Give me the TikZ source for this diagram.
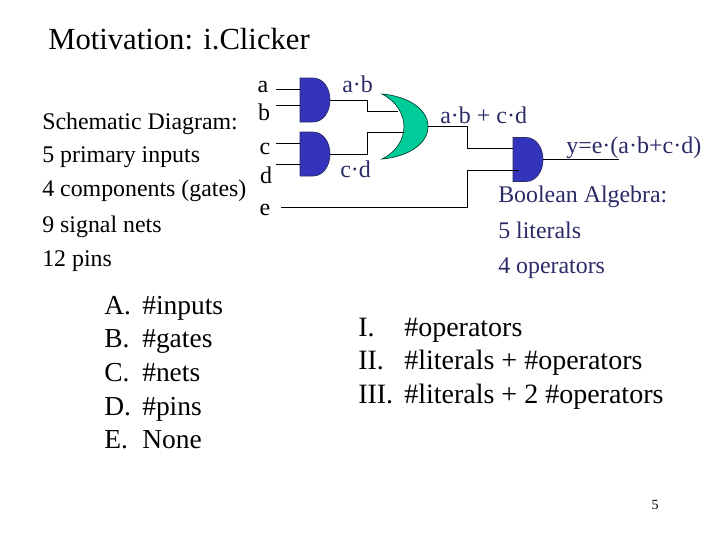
\documentclass[tikz,border=0pt]{standalone}
\usepackage{xcolor}
\usepackage{fontspec}
\setmainfont{Liberation Serif}
\definecolor{gateblue}{HTML}{3333BB}
\definecolor{gategreen}{HTML}{00CC99}
\definecolor{labelblue}{HTML}{2A2A66}
\newcommand{\andbody}[1]{\draw[fill=gateblue, draw=labelblue, line width=0.5pt, shift={(#1.north west)}]
    (0,0) -- (13,0) .. controls (23,0) and (30,10) .. (30,22)
    .. controls (30,34) and (23,44) .. (13,44) -- (0,44) -- cycle;}
\newcommand{\orbody}[1]{\draw[fill=gategreen, draw=black!70!gategreen, line width=0.5pt, shift={(#1.north west)}]
    (0,0) .. controls (24,2) and (46,14) .. (46,32.5)
    .. controls (46,51) and (24,63) .. (0,65)
    .. controls (14,58) and (22,46) .. (22,32.5)
    .. controls (22,20) and (14,7) .. (0,0) -- cycle;}
\begin{document}
\begin{tikzpicture}[
    x=0.75pt, y=-0.75pt,
    txt/.style={anchor=base west, inner sep=0, font=\fontsize{17.9}{20}\selectfont, text=black},
    big/.style={txt, font=\fontsize{21}{22}\selectfont},
    choice/.style={txt, font=\fontsize{20.6}{22}\selectfont},
    sig/.style={anchor=base, inner sep=0, font=\fontsize{18}{20}\selectfont},
    net/.style={txt, font=\fontsize{18}{20}\selectfont, text=labelblue},
    wire/.style={draw=black, line width=0.65pt},
    andgate/.style={inner sep=0, outer sep=0, minimum width=22.5pt, minimum height=33pt},
    orgate/.style={inner sep=0, outer sep=0, minimum width=34.5pt, minimum height=48.75pt}
]
    \useasboundingbox (0,0) rectangle (720,540);

    \node[anchor=base west, inner sep=0, font=\fontsize{23}{24}\selectfont] (title) at (48,49) {Motivation: i.Clicker};

    % left column
    \node[txt] (schematic) at (42,129) {Schematic Diagram:};
    \node[txt] (inputs) at (42,162) {5 primary inputs};
    \node[txt] (comps) at (42,196) {4 components (gates)};
    \node[txt] (nets) at (42,232) {9 signal nets};
    \node[txt] (pins) at (42,266) {12 pins};

    % gates
    \node[andgate] (and1) at (315,100) {};
    \node[andgate] (and2) at (315,154) {};
    \node[orgate] (or1) at (405,126.5) {};
    \node[andgate] (and3) at (528,159.5) {};
    \andbody{and1}
    \andbody{and2}
    \orbody{or1}
    \andbody{and3}

    % signals
    \node[sig] (a) at (263,92) {a};
    \node[sig] (b) at (264,120) {b};
    \node[sig] (c) at (265,154) {c};
    \node[sig] (d) at (266,183) {d};
    \node[sig] (e) at (265,215) {e};

    \coordinate (a in) at (276,89);
    \coordinate (b in) at (276,105);
    \coordinate (c in) at (276,143);
    \coordinate (d in) at (276,164);
    \coordinate (e in) at (281,207);
    \coordinate (or top) at (398,111);
    \coordinate (or bot) at (404,132);
    \coordinate (top bend) at (367,111);
    \coordinate (bot bend) at (367,132);
    \coordinate (plus bend) at (467,148);
    \coordinate (e bend) at (467,170);
    \coordinate (and3 bot) at (519,170);
    \coordinate (y out) at (619,159.5);

    \draw[wire] (a in) -- (a in -| and1.west);
    \draw[wire] (b in) -- (b in -| and1.west);
    \draw[wire] (c in) -- (c in -| and2.west);
    \draw[wire] (d in) -- (d in -| and2.west);
    \draw[wire] (and1.east) -| (top bend) -- (or top);
    \draw[wire] (and2.east) -| (bot bend) -- (or bot);
    \draw[wire] (or1.east) -| (plus bend) -- (plus bend -| and3.west);
    \draw[wire] (e in) -| (e bend) -- (and3 bot);
    \draw[wire] (and3.east) -- (y out);

    % net labels
    \node[net] (ab) at (342,92) {a·b};
    \node[net] (cd) at (340,177) {c·d};
    \node[net] (sum) at (440,123) {a·b + c·d};
    \node[net] (y) at (566,153) {y=e·(a·b+c·d)};

    % right column
    \node[txt, text=labelblue] (bool) at (498,202) {Boolean Algebra:};
    \node[txt, text=labelblue] (lits) at (498,238) {5 literals};
    \node[txt, text=labelblue] (ops) at (498,273) {4 operators};

    % answers
    \node[choice] (A) at (104,314) {A.};
    \node[choice] (Aa) at (142,314) {\#inputs};
    \node[choice] (B) at (104,347) {B.};
    \node[choice] (Ba) at (142,347) {\#gates};
    \node[choice] (C) at (104,381) {C.};
    \node[choice] (Ca) at (142,381) {\#nets};
    \node[choice] (D) at (104,415) {D.};
    \node[choice] (Da) at (142,415) {\#pins};
    \node[choice] (E) at (104,448) {E.};
    \node[choice] (Ea) at (142,448) {None};

    \node[big] (I) at (358,336) {I.};
    \node[big] (Ia) at (404,336) {\#operators};
    \node[big] (II) at (358,369) {II.};
    \node[big] (IIa) at (404,369) {\#literals + \#operators};
    \node[big] (III) at (358,403) {III.};
    \node[big] (IIIa) at (404,403) {\#literals + 2 \#operators};

    \node[anchor=base, inner sep=0, font=\fontsize{10.5}{12}\selectfont] (page) at (655,509) {5};
\end{tikzpicture}
\end{document}
